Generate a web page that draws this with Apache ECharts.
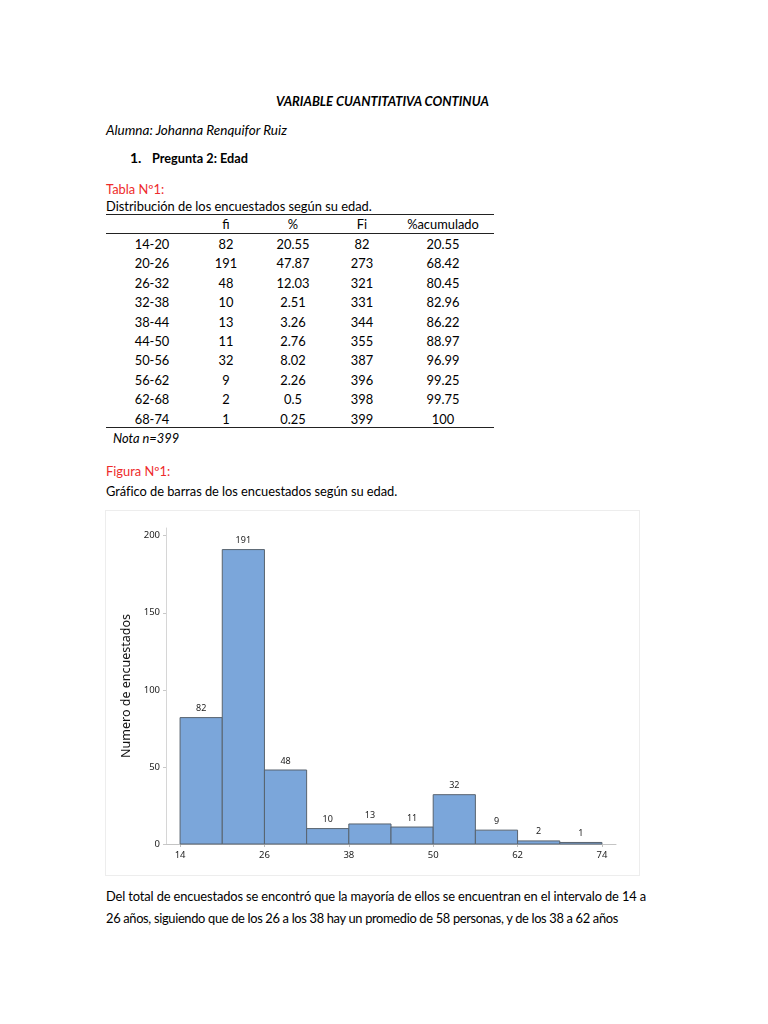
<!DOCTYPE html>
<html><head><meta charset="utf-8">
<script src="https://cdn.jsdelivr.net/npm/echarts@6/dist/echarts.min.js"></script>
<style>
html,body{margin:0;padding:0;background:#fff;}
body{width:768px;height:1024px;position:relative;overflow:hidden;font-family:Lato,"Open Sans",sans-serif;color:#000;}
.t{position:absolute;white-space:nowrap;line-height:20px;height:20px;font-size:14px;}
.c{position:absolute;white-space:nowrap;line-height:20px;height:20px;font-size:14px;transform:translateX(-50%);}
.hr{position:absolute;left:106px;width:388px;height:0;border-top:1px solid #222;}
.red{color:#ee2b2b;}
#chart{position:absolute;left:105px;top:510px;width:535px;height:366px;border:1px solid #ededed;box-sizing:border-box;}
</style></head><body>
<div class="t" id="title" style="left:276px;top:91px;font-weight:bold;font-style:italic;" data-w="213">VARIABLE CUANTITATIVA CONTINUA</div>
<div class="t" style="left:106px;top:120px;font-style:italic;" data-w="181">Alumna: Johanna Renquifor Ruiz</div>
<div class="t" style="left:130px;top:148px;font-weight:bold;">1.</div>
<div class="t" style="left:152px;top:148px;font-weight:bold;" data-w="96">Pregunta 2: Edad</div>
<div class="t red body" style="left:106px;top:179px;">Tabla Nº1:</div>
<div class="t" id="dist" style="left:106px;top:196px;">Distribución de los encuestados según su edad.</div>
<div class="hr" style="top:214px;"></div>
<div class="hr" style="top:233px;"></div>
<div class="hr" style="top:427px;"></div>
<div id="table"></div>
<div class="t body" style="left:113px;top:428px;font-style:italic;">Nota n=399</div>
<div class="t red body" style="left:106px;top:461px;">Figura Nº1:</div>
<div class="t body" style="left:106px;top:481px;" data-ls="291">Gráfico de barras de los encuestados según su edad.</div>
<div id="chart"></div>
<div class="t body" style="left:106px;top:886px;" data-ls="540">Del total de encuestados se encontró que la mayoría de ellos se encuentran en el intervalo de 14 a</div>
<div class="t body" style="left:106px;top:908px;" data-ls="512">26 años, siguiendo que de los 26 a los 38 hay un promedio de 58 personas, y de los 38 a 62 años</div>
<script>
// ---- data ----
const tableHeaders = ["", "fi", "%", "Fi", "%acumulado"];
const classes = ["14-20","20-26","26-32","32-38","38-44","44-50","50-56","56-62","62-68","68-74"];
const fi = [82, 191, 48, 10, 13, 11, 32, 9, 2, 1];
const pct = ["20.55","47.87","12.03","2.51","3.26","2.76","8.02","2.26","0.5","0.25"];
const Fi = [82, 273, 321, 331, 344, 355, 387, 396, 398, 399];
const pctAcum = ["20.55","68.42","80.45","82.96","86.22","88.97","96.99","99.25","99.75","100"];
const binEdges = [14, 20, 26, 32, 38, 44, 50, 56, 62, 68, 74];
const counts = [82, 191, 48, 10, 13, 11, 32, 9, 2, 1];
const xTicks = [14, 26, 38, 50, 62, 74];
const yTicks = [0, 50, 100, 150, 200];
const yAxisName = "Numero de encuestados";

// ---- fit text widths ----
function fit(el, target) {
  const w = el.getBoundingClientRect().width;
  const fs = parseFloat(getComputedStyle(el).fontSize);
  el.style.fontSize = (fs * target / w).toFixed(2) + 'px';
}
document.querySelectorAll('[data-w]').forEach(el => fit(el, +el.dataset.w));
const distEl = document.getElementById('dist');
fit(distEl, 266);
const bodyFs = distEl.style.fontSize;
document.querySelectorAll('.body').forEach(el => { el.style.fontSize = bodyFs; });
document.querySelectorAll('[data-ls]').forEach(el => {
  const w = el.getBoundingClientRect().width;
  const n = el.textContent.length;
  el.style.letterSpacing = ((+el.dataset.ls - w) / n).toFixed(3) + 'px';
});

// ---- table ----
const colX = [152, 226, 293, 362, 443];
const tbl = document.getElementById('table');
function cell(txt, x, cy) {
  const d = document.createElement('div');
  d.className = 'c';
  d.style.left = x + 'px';
  d.style.top = (cy - 10) + 'px';
  d.style.fontSize = bodyFs;
  d.textContent = txt;
  tbl.appendChild(d);
}
tableHeaders.forEach((h, j) => { if (h) cell(h, colX[j], 224); });
classes.forEach((c, i) => {
  const cy = 244 + i * 19.4;
  [c, fi[i], pct[i], Fi[i], pctAcum[i]].forEach((v, j) => cell(String(v), colX[j], cy));
});

// ---- chart ----
const chart = echarts.init(document.getElementById('chart'), null, {renderer: 'canvas'});
const lblFont = '"Noto Sans", "Open Sans", sans-serif';
chart.setOption({
  animation: false,
  backgroundColor: '#fff',
  grid: {left: 60, right: 23, top: 17, bottom: 31},
  xAxis: {
    type: 'value', min: 12, max: 76,
    splitLine: {show: false},
    axisLine: {lineStyle: {color: '#c4c4c4', width: 1}},
    axisTick: {show: true, length: 3, lineStyle: {color: '#bdbdbd'}, customValues: xTicks},
    axisLabel: {customValues: xTicks, color: '#222', fontSize: 9.5, fontFamily: lblFont, margin: 6}
  },
  yAxis: {
    type: 'value', min: 0, max: 205,
    name: yAxisName, nameLocation: 'middle', nameGap: 28, nameRotate: 90,
    nameTextStyle: {color: '#111', fontSize: 12.5, fontFamily: lblFont},
    splitLine: {show: false},
    axisLine: {show: true, lineStyle: {color: '#d6d6d6', width: 1}},
    axisTick: {show: true, length: 3, lineStyle: {color: '#c8c8c8'}, customValues: yTicks},
    axisLabel: {customValues: yTicks, color: '#222', fontSize: 9.5, fontFamily: lblFont, margin: 6}
  },
  series: [{
    type: 'custom',
    data: counts.map((c, i) => [binEdges[i], binEdges[i + 1], c]),
    encode: {x: [0, 1], y: 2},
    renderItem: function (params, api) {
      const p0 = api.coord([api.value(0), api.value(2)]);
      const p1 = api.coord([api.value(1), 0]);
      return {
        type: 'group',
        children: [
          {type: 'rect', shape: {x: p0[0], y: p0[1], width: p1[0] - p0[0], height: p1[1] - p0[1]},
           style: {fill: '#7ba6da', stroke: '#58636e', lineWidth: 1}},
          {type: 'text', x: (p0[0] + p1[0]) / 2, y: p0[1] - 9,
           style: {text: String(api.value(2)), align: 'center', verticalAlign: 'middle',
                   fill: '#222', fontSize: 9, fontFamily: lblFont}}
        ]
      };
    }
  }]
});
</script>
</body></html>
